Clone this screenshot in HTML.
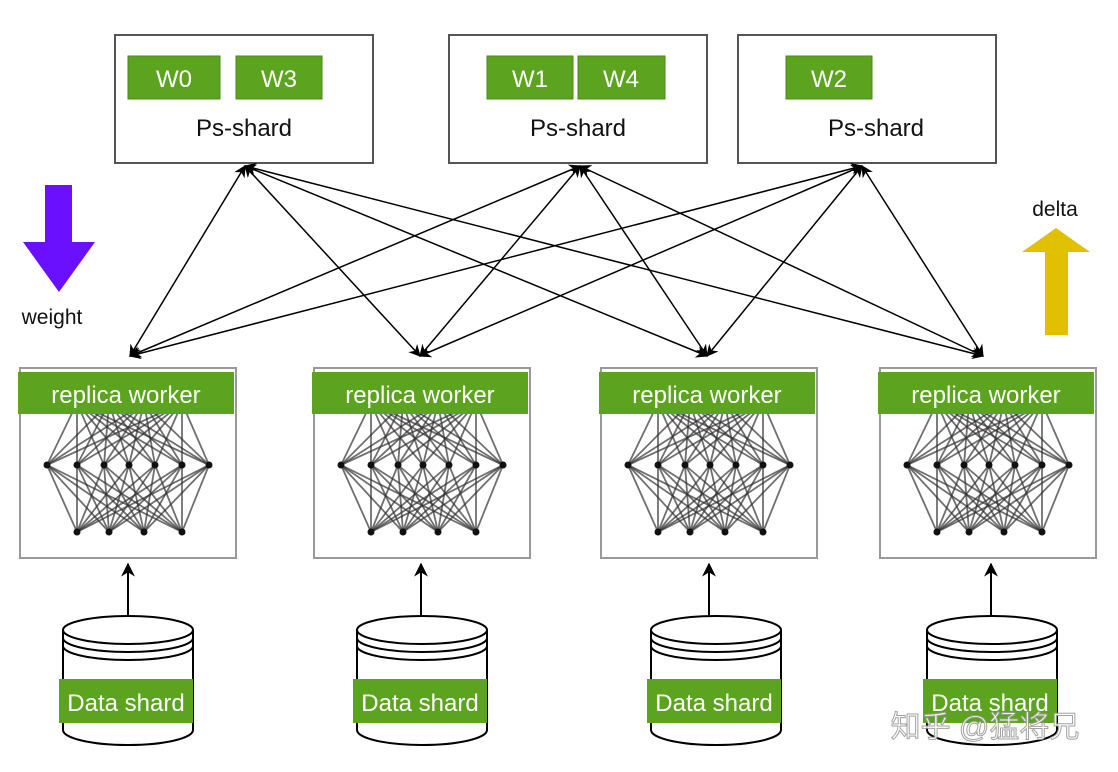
<!DOCTYPE html>
<html><head><meta charset="utf-8"><style>
html,body{margin:0;padding:0;background:#fff;}
svg{display:block;}
text{font-family:"Liberation Sans",Arial,sans-serif;}
</style></head><body>
<svg id="s" width="1118" height="772" viewBox="0 0 1118 772" xmlns="http://www.w3.org/2000/svg">
<defs>
<marker id="ah" viewBox="0 0 10 10" refX="9" refY="5" markerWidth="14" markerHeight="12" orient="auto-start-reverse" markerUnits="userSpaceOnUse"><path d="M0,0 L10,5 L0,10 L3,5 z" fill="#000"/></marker>
<marker id="ah2" viewBox="0 0 10 10" refX="9" refY="5" markerWidth="14" markerHeight="14" orient="auto" markerUnits="userSpaceOnUse"><path d="M0,0 L10,5 L0,10 L3,5 z" fill="#000"/></marker>
<g id="net"></g>
<g id="cyl">
<path d="M0,15 L0,115 A65,15 0 0 0 130,115 L130,15" fill="#fff" stroke="#000" stroke-width="2"/>
<ellipse cx="65" cy="15" rx="65" ry="14" fill="#fff" stroke="#000" stroke-width="2"/>
<path d="M0,23 A65,14 0 0 0 130,23 M0,31 A65,14 0 0 0 130,31" fill="none" stroke="#000" stroke-width="2"/>
</g>
</defs>

<g stroke="#555" stroke-width="2" fill="#fff">
<rect x="115" y="35" width="258" height="128"/>
<rect x="449" y="35" width="258" height="128"/>
<rect x="738" y="35" width="258" height="128"/>
</g>
<g fill="#5ca31f" stroke="#4a8a18" stroke-width="1">
<rect x="128" y="56" width="92" height="43"/>
<rect x="236" y="56" width="86" height="43"/>
<rect x="487" y="56" width="86" height="43"/>
<rect x="578" y="56" width="87" height="43"/>
<rect x="786" y="56" width="86" height="43"/>
</g>
<g fill="#fff" font-size="24" text-anchor="middle">
<text x="174" y="87">W0</text><text x="279" y="87">W3</text>
<text x="530" y="87">W1</text><text x="621" y="87">W4</text>
<text x="829" y="87">W2</text>
</g>
<g fill="#111" font-size="24" text-anchor="middle">
<text x="244" y="136">Ps-shard</text>
<text x="578" y="136">Ps-shard</text>
<text x="876" y="136">Ps-shard</text>
</g>

<g id="conn" stroke="#000" stroke-width="1.5" fill="none"></g>

<polygon points="45,185 72,185 72,242 95,242 59,292 23,242 45,242" fill="#6a10ff"/>
<text x="52" y="324" font-size="21" text-anchor="middle" fill="#111">weight</text>
<polygon points="1045,335 1068,335 1068,252 1090,252 1056,228 1022,252 1045,252" fill="#e0c000"/>
<text x="1055" y="216" font-size="21" text-anchor="middle" fill="#111">delta</text>

<g id="workers"></g>

<text x="985" y="737" font-size="30" fill="#fff" stroke="#999" stroke-width="1" text-anchor="middle" style="font-family:'Liberation Sans','Noto Sans CJK SC',sans-serif" opacity="0.9">知乎 @猛将兄</text>
</svg>
<script>
(function(){
var NS="http://www.w3.org/2000/svg";
function el(t,a,p){var e=document.createElementNS(NS,t);for(var k in a)e.setAttribute(k,a[k]);p.appendChild(e);return e;}
var net=document.getElementById('net');
var tp=[57,89,124,162],mid=[27,57,84,109,135,162,189],bot=[57,89,124,162];
var ty=35,my=97,by=164;
tp.forEach(function(a){mid.forEach(function(b){el('line',{x1:a,y1:ty,x2:b,y2:my,stroke:'#333','stroke-width':1.8,opacity:.7},net);});});
mid.forEach(function(a){bot.forEach(function(b){el('line',{x1:a,y1:my,x2:b,y2:by,stroke:'#333','stroke-width':1.8,opacity:.7},net);});});
mid.forEach(function(a){el('circle',{cx:a,cy:my,r:3.5,fill:'#111'},net);});
bot.forEach(function(a){el('circle',{cx:a,cy:by,r:3.5,fill:'#111'},net);});
var W=document.getElementById('workers');
var wx=[20,314,601,880],cx=[63,357,651,927];
var ax=[128,421,709,991];
wx.forEach(function(x,i){
 el('rect',{x:x,y:368,width:216,height:190,fill:'#fff',stroke:'#999','stroke-width':2},W);
 el('use',{href:'#net',x:x,y:368},W);
 el('rect',{x:x-2,y:372,width:216,height:42,fill:'#5ca31f'},W);
 var t=el('text',{x:x+106,y:403,'font-size':24,fill:'#fff','text-anchor':'middle'},W);t.textContent='replica worker';
 el('use',{href:'#cyl',x:cx[i],y:615},W);
 el('line',{x1:ax[i],y1:615,x2:ax[i],y2:564,stroke:'#000','stroke-width':2,'marker-end':'url(#ah2)'},W);
 el('rect',{x:cx[i]-4,y:679,width:134,height:44,fill:'#5ca31f'},W);
 var d=el('text',{x:cx[i]+63,y:711,'font-size':24,fill:'#fff','text-anchor':'middle'},W);d.textContent='Data shard';
});
var C=document.getElementById('conn');
var ps=[[245,166],[580,166],[862,166]],wk=[[130,356],[420,356],[707,356],[983,356]];
ps.forEach(function(p){wk.forEach(function(w){
 el('line',{x1:p[0],y1:p[1],x2:w[0],y2:w[1],'marker-start':'url(#ah)','marker-end':'url(#ah)'},C);
});});
})();
</script>
</body></html>
